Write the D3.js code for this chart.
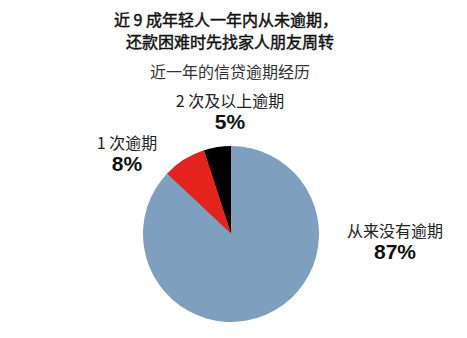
<!DOCTYPE html>
<html>
<head>
<meta charset="utf-8">
<script src="https://cdn.jsdelivr.net/npm/d3@7/dist/d3.min.js"></script>
<style>
  body { margin: 0; background: #fff; }
  text { font-family: "Noto Sans CJK SC", sans-serif; }
  .pct { font-family: "Liberation Sans", Arial, sans-serif; font-weight: bold; }
</style>
</head>
<body>
<svg width="467" height="338"></svg>
<script>
// data
const categories = ['从来没有逾期', '1 次逾期', '2 次及以上逾期'];
const values = [87, 8, 5];
const colors = ['#7f9fbf', '#e4231c', '#000000'];
const titleLines = ['近 9 成年轻人一年内从未逾期，', '还款困难时先找家人朋友周转'];
const subtitle = '近一年的信贷逾期经历';

const svg = d3.select('svg');
const cx = 231, cy = 234, r = 88;

// titles, regular weight with a thin stroke for a medium look
svg.selectAll('text.title')
  .data(titleLines)
  .enter().append('text')
    .attr('class', 'title')
    .attr('x', (d, i) => i === 0 ? 226 : 230)
    .attr('y', (d, i) => 26 + i * 22)
    .attr('text-anchor', 'middle')
    .attr('font-size', 16)
    .attr('fill', '#111')
    .attr('stroke', '#111')
    .attr('stroke-width', 0.45)
    .text(d => d);

svg.append('text')
  .attr('x', 230)
  .attr('y', 78)
  .attr('text-anchor', 'middle')
  .attr('font-size', 16)
  .attr('fill', '#333')
  .text(subtitle);

// pie
const pie = d3.pie().sort(null).value(d => d)(values);
const arc = d3.arc().innerRadius(0).outerRadius(r);

const g = svg.append('g').attr('transform', `translate(${cx},${cy})`);
g.selectAll('path')
  .data(pie)
  .enter().append('path')
    .attr('d', arc)
    .attr('fill', (d, i) => colors[i]);

// labels
const labelPos = [[395, 237], [127, 149], [230, 107]];
const labels = svg.selectAll('g.label')
  .data(categories)
  .enter().append('g')
    .attr('class', 'label')
    .attr('transform', (d, i) => `translate(${labelPos[i][0]},${labelPos[i][1]})`);

labels.append('text')
  .attr('text-anchor', 'middle')
  .attr('font-size', 16)
  .attr('fill', '#222')
  .text(d => d);

labels.append('text')
  .attr('class', 'pct')
  .attr('text-anchor', 'middle')
  .attr('y', 22)
  .attr('font-size', 21)
  .attr('fill', '#111')
  .text((d, i) => values[i] + '%');
</script>
</body>
</html>
